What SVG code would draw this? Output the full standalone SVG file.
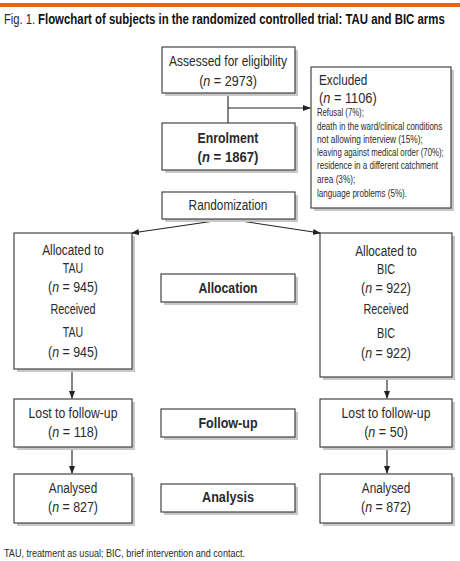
<svg xmlns="http://www.w3.org/2000/svg" width="460" height="561" viewBox="0 0 460 561">
<defs>
<marker id="ah" markerWidth="8" markerHeight="6" refX="7" refY="3" orient="auto" markerUnits="userSpaceOnUse">
<path d="M0,0 L8,3 L0,6 z" fill="#222"/>
</marker>
<style>
.t{font-family:"Liberation Sans",Arial,sans-serif;fill:#2a2a2a}
.m{font-size:15.5px;text-anchor:middle}
.b{font-weight:bold}
.s{font-size:10px}
.i{font-style:italic}
.box{fill:#fff;stroke:#333;stroke-width:1.1}
.sh{fill:#c8c8c8}
.ln{stroke:#222;stroke-width:1.1;fill:none}
</style>
</defs>
<rect x="0" y="3" width="460" height="4" fill="#e2661e"/>
<text class="t" transform="translate(4,24) scale(0.78,1)" font-size="14.5" textLength="40" lengthAdjust="spacingAndGlyphs">Fig. 1.</text>
<text class="t b" transform="translate(38,24) scale(0.72,1)" font-size="14.5" textLength="565" lengthAdjust="spacingAndGlyphs" style="fill:#111">Flowchart of subjects in the randomized controlled trial: TAU and BIC arms</text>

<g id="connectors">
<path class="ln" d="M228,93 V123"/>
<path class="ln" d="M228,108 H310" marker-end="url(#ah)"/>
<path class="ln" d="M228,219 L132,233" marker-end="url(#ah)"/>
<path class="ln" d="M228,219 L320,233" marker-end="url(#ah)"/>
<path class="ln" d="M72,369 V398" marker-end="url(#ah)"/>
<path class="ln" d="M387,377 V398" marker-end="url(#ah)"/>
<path class="ln" d="M72,447 V473" marker-end="url(#ah)"/>
<path class="ln" d="M387,447 V473" marker-end="url(#ah)"/>
</g>

<g id="assessed">
<rect class="sh" x="165" y="50" width="133" height="46"/>
<rect class="box" x="162" y="47" width="133" height="46"/>
<text class="t m" transform="translate(228,66) scale(0.78,1)" textLength="151" lengthAdjust="spacingAndGlyphs">Assessed for eligibility</text>
<text class="t m" transform="translate(228,86) scale(0.78,1)" textLength="74" lengthAdjust="spacingAndGlyphs">(<tspan class="i">n</tspan> = 2973)</text>
</g>

<g id="excluded">
<rect class="sh" x="314" y="70" width="140" height="141"/>
<rect class="box" x="311" y="67" width="140" height="141"/>
<text class="t" transform="translate(319,85) scale(0.78,1)" font-size="15.5" textLength="62" lengthAdjust="spacingAndGlyphs">Excluded</text>
<text class="t" transform="translate(319,103) scale(0.78,1)" font-size="15.5" textLength="74" lengthAdjust="spacingAndGlyphs">(<tspan class="i">n</tspan> = 1106)</text>
<text class="t s" transform="translate(317,116) scale(0.72,1)" textLength="65" lengthAdjust="spacingAndGlyphs">Refusal (7%);</text>
<text class="t s" transform="translate(317,130) scale(0.72,1)" textLength="174" lengthAdjust="spacingAndGlyphs">death in the ward/clinical conditions</text>
<text class="t s" transform="translate(317,143) scale(0.72,1)" textLength="147" lengthAdjust="spacingAndGlyphs">not allowing interview (15%);</text>
<text class="t s" transform="translate(317,156) scale(0.72,1)" textLength="176" lengthAdjust="spacingAndGlyphs">leaving against medical order (70%);</text>
<text class="t s" transform="translate(317,169) scale(0.72,1)" textLength="168" lengthAdjust="spacingAndGlyphs">residence in a different catchment</text>
<text class="t s" transform="translate(317,183) scale(0.72,1)" textLength="53" lengthAdjust="spacingAndGlyphs">area (3%);</text>
<text class="t s" transform="translate(317,197) scale(0.72,1)" textLength="125" lengthAdjust="spacingAndGlyphs">language problems (5%).</text>
</g>

<g id="enrolment">
<rect class="sh" x="165" y="126" width="133" height="47"/>
<rect class="box" x="162" y="123" width="133" height="47"/>
<text class="t m b" transform="translate(228,143) scale(0.8,1)" textLength="76" lengthAdjust="spacingAndGlyphs">Enrolment</text>
<text class="t m b" transform="translate(228,162) scale(0.8,1)" textLength="76" lengthAdjust="spacingAndGlyphs">(<tspan class="i">n</tspan> = 1867)</text>
</g>

<g id="randomization">
<rect class="sh" x="165" y="195" width="133" height="27"/>
<rect class="box" x="162" y="192" width="133" height="27"/>
<text class="t m" transform="translate(228,210) scale(0.78,1)" textLength="101" lengthAdjust="spacingAndGlyphs">Randomization</text>
</g>

<g id="allocTAU">
<rect class="sh" x="17" y="236" width="118" height="136"/>
<rect class="box" x="14" y="233" width="118" height="136"/>
<text class="t m" transform="translate(73,255) scale(0.78,1)" textLength="79" lengthAdjust="spacingAndGlyphs">Allocated to</text>
<text class="t m" transform="translate(73,273) scale(0.78,1)" textLength="26" lengthAdjust="spacingAndGlyphs">TAU</text>
<text class="t m" transform="translate(73,292) scale(0.78,1)" textLength="64" lengthAdjust="spacingAndGlyphs">(<tspan class="i">n</tspan> = 945)</text>
<text class="t m" transform="translate(73,314) scale(0.78,1)" textLength="58" lengthAdjust="spacingAndGlyphs">Received</text>
<text class="t m" transform="translate(73,337) scale(0.78,1)" textLength="26" lengthAdjust="spacingAndGlyphs">TAU</text>
<text class="t m" transform="translate(73,357) scale(0.78,1)" textLength="64" lengthAdjust="spacingAndGlyphs">(<tspan class="i">n</tspan> = 945)</text>
</g>

<g id="allocBIC">
<rect class="sh" x="323" y="236" width="132" height="144"/>
<rect class="box" x="320" y="233" width="132" height="144"/>
<text class="t m" transform="translate(386,256) scale(0.78,1)" textLength="79" lengthAdjust="spacingAndGlyphs">Allocated to</text>
<text class="t m" transform="translate(386,274) scale(0.78,1)" textLength="23" lengthAdjust="spacingAndGlyphs">BIC</text>
<text class="t m" transform="translate(386,293) scale(0.78,1)" textLength="64" lengthAdjust="spacingAndGlyphs">(<tspan class="i">n</tspan> = 922)</text>
<text class="t m" transform="translate(386,314) scale(0.78,1)" textLength="58" lengthAdjust="spacingAndGlyphs">Received</text>
<text class="t m" transform="translate(386,338) scale(0.78,1)" textLength="23" lengthAdjust="spacingAndGlyphs">BIC</text>
<text class="t m" transform="translate(386,358) scale(0.78,1)" textLength="64" lengthAdjust="spacingAndGlyphs">(<tspan class="i">n</tspan> = 922)</text>
</g>

<g id="allocation">
<rect class="sh" x="164" y="277" width="134" height="28"/>
<rect class="box" x="161" y="274" width="134" height="28"/>
<text class="t m b" transform="translate(228,293) scale(0.8,1)" textLength="74" lengthAdjust="spacingAndGlyphs">Allocation</text>
</g>

<g id="lostTAU">
<rect class="sh" x="17" y="402" width="118" height="48"/>
<rect class="box" x="14" y="399" width="118" height="48"/>
<text class="t m" transform="translate(73,418) scale(0.78,1)" textLength="114" lengthAdjust="spacingAndGlyphs">Lost to follow-up</text>
<text class="t m" transform="translate(73,437) scale(0.78,1)" textLength="64" lengthAdjust="spacingAndGlyphs">(<tspan class="i">n</tspan> = 118)</text>
</g>

<g id="followup">
<rect class="sh" x="164" y="412" width="134" height="28"/>
<rect class="box" x="161" y="409" width="134" height="28"/>
<text class="t m b" transform="translate(228,428) scale(0.8,1)" textLength="74" lengthAdjust="spacingAndGlyphs">Follow-up</text>
</g>

<g id="lostBIC">
<rect class="sh" x="323" y="402" width="132" height="48"/>
<rect class="box" x="320" y="399" width="132" height="48"/>
<text class="t m" transform="translate(386,418) scale(0.78,1)" textLength="114" lengthAdjust="spacingAndGlyphs">Lost to follow-up</text>
<text class="t m" transform="translate(386,437) scale(0.78,1)" textLength="56" lengthAdjust="spacingAndGlyphs">(<tspan class="i">n</tspan> = 50)</text>
</g>

<g id="analysedTAU">
<rect class="sh" x="17" y="477" width="118" height="49"/>
<rect class="box" x="14" y="474" width="118" height="49"/>
<text class="t m" transform="translate(73,493) scale(0.78,1)" textLength="62" lengthAdjust="spacingAndGlyphs">Analysed</text>
<text class="t m" transform="translate(73,512) scale(0.78,1)" textLength="64" lengthAdjust="spacingAndGlyphs">(<tspan class="i">n</tspan> = 827)</text>
</g>

<g id="analysis">
<rect class="sh" x="164" y="487" width="134" height="28"/>
<rect class="box" x="161" y="484" width="134" height="28"/>
<text class="t m b" transform="translate(228,502) scale(0.8,1)" textLength="65" lengthAdjust="spacingAndGlyphs">Analysis</text>
</g>

<g id="analysedBIC">
<rect class="sh" x="323" y="477" width="132" height="49"/>
<rect class="box" x="320" y="474" width="132" height="49"/>
<text class="t m" transform="translate(386,493) scale(0.78,1)" textLength="62" lengthAdjust="spacingAndGlyphs">Analysed</text>
<text class="t m" transform="translate(386,512) scale(0.78,1)" textLength="64" lengthAdjust="spacingAndGlyphs">(<tspan class="i">n</tspan> = 872)</text>
</g>

<text class="t" transform="translate(4,557) scale(0.84,1)" font-size="10" textLength="287" lengthAdjust="spacingAndGlyphs">TAU, treatment as usual; BIC, brief intervention and contact.</text>
</svg>
